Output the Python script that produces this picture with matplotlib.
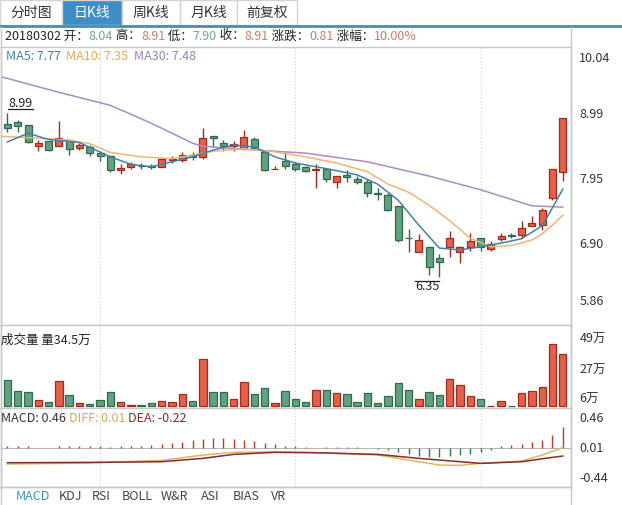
import matplotlib
matplotlib.use('Agg')
import matplotlib.pyplot as plt
from matplotlib.lines import Line2D
from matplotlib.patches import Rectangle
import matplotlib.transforms as mtransforms
import numpy as np

plt.rcParams['font.family'] = ['Noto Sans CJK SC', 'DejaVu Sans']

# data ===============================================================
opens = [8.82, 8.85, 8.80, 8.46, 8.54, 8.46, 8.56, 8.44, 8.45, 8.35, 8.30, 8.07, 8.12, 8.15, 8.14,
         8.12, 8.24, 8.24, 8.32, 8.28, 8.63, 8.51, 8.46, 8.44, 8.57, 8.37, 8.09, 8.22, 8.17, 8.13,
         8.08, 8.09, 7.89, 8.00, 7.93, 7.89, 7.70, 7.67, 7.50, 6.99, 6.75, 6.83, 6.66, 6.84, 6.76,
         6.83, 6.99, 6.80, 6.96, 7.03, 7.03, 7.18, 7.19, 7.63, 8.04]
closes = [8.75, 8.79, 8.53, 8.52, 8.40, 8.59, 8.42, 8.48, 8.35, 8.31, 8.07, 8.11, 8.17, 8.14, 8.13,
          8.25, 8.26, 8.32, 8.28, 8.59, 8.59, 8.46, 8.49, 8.61, 8.43, 8.08, 8.10, 8.15, 8.09, 8.06,
          8.09, 7.93, 7.98, 7.96, 7.89, 7.70, 7.69, 7.44, 6.95, 6.98, 6.95, 6.51, 6.59, 6.99, 6.83,
          6.94, 6.84, 6.89, 7.01, 7.02, 7.15, 7.23, 7.44, 8.10, 8.91]
highs = [8.99, 8.89, 8.80, 8.56, 8.55, 8.86, 8.56, 8.52, 8.48, 8.39, 8.32, 8.18, 8.21, 8.19, 8.18,
         8.27, 8.30, 8.36, 8.37, 8.75, 8.63, 8.56, 8.55, 8.72, 8.61, 8.40, 8.14, 8.37, 8.21, 8.14,
         8.17, 8.10, 7.98, 8.07, 7.98, 7.93, 7.78, 7.70, 7.50, 7.13, 7.05, 6.83, 6.72, 7.09, 6.86,
         7.06, 6.99, 6.93, 7.06, 7.06, 7.26, 7.33, 7.46, 8.10, 8.91]
lows = [8.69, 8.69, 8.51, 8.39, 8.39, 8.46, 8.32, 8.40, 8.31, 8.22, 8.04, 8.01, 8.10, 8.10, 8.10,
        8.12, 8.19, 8.20, 8.24, 8.25, 8.45, 8.38, 8.39, 8.40, 8.41, 8.06, 8.09, 8.10, 8.06, 8.04,
        7.79, 7.89, 7.79, 7.89, 7.85, 7.64, 7.60, 7.41, 6.92, 6.75, 6.75, 6.38, 6.35, 6.68, 6.58,
        6.78, 6.78, 6.77, 6.93, 6.98, 6.98, 7.17, 7.11, 7.60, 7.90]
volumes = [19, 11, 10.4, 4.4, 3, 18.3, 8.2, 2.5, 1.8, 4.4, 10.4, 3.2, 1.1, 1.1, 2.5, 3.7, 3.2, 9,
           3.7, 33.8, 10.4, 10.4, 5.2, 17.6, 9, 13.3, 2.5, 11.1, 5.4, 3.2, 11.8, 11.8, 9.7, 9, 3.2,
           9.7, 2.5, 7.5, 16.8, 11.8, 5.4, 10.4, 8.2, 19.7, 15.4, 7.5, 5.4, 0.4, 3.9, 0.6, 9.7,
           11.1, 14, 44.8, 37.6]

ma5_idx = [0, 2, 4, 7, 10, 12, 14, 16, 18, 20, 22, 24, 26, 28, 31, 34, 36, 38, 40, 42, 44, 46,
           48, 50, 52, 53, 54]
ma5 = [8.53, 8.67, 8.57, 8.52, 8.29, 8.17, 8.13, 8.21, 8.29, 8.40, 8.48, 8.45, 8.29, 8.19, 8.10,
       8.00, 7.85, 7.59, 7.19, 6.82, 6.79, 6.84, 6.90, 6.97, 7.18, 7.47, 7.77]
ma10_idx = [-0.6, 3, 6, 8, 10, 13, 16, 18, 20, 23, 26, 29, 32, 35, 37, 39, 41, 43, 45, 47, 49,
            51, 52, 53, 54]
ma10 = [8.62, 8.59, 8.56, 8.50, 8.36, 8.29, 8.26, 8.32, 8.38, 8.42, 8.37, 8.29, 8.19, 8.05, 7.85,
        7.72, 7.51, 7.26, 6.98, 6.84, 6.86, 6.95, 7.05, 7.19, 7.35]
ma30_idx = [-0.6, 5, 10, 14, 18, 19, 24, 29, 35, 41, 46, 51, 54]
ma30 = [9.58, 9.33, 9.12, 8.83, 8.51, 8.46, 8.40, 8.35, 8.21, 7.98, 7.76, 7.50, 7.48]

macd_hist = [0.02, 0.02, 0.02, 0, 0, 0.02, 0.02, 0.02, 0.02, 0.02, 0.01, 0.02, 0.03, 0.03, 0.04,
             0.05, 0.07, 0.09, 0.11, 0.13, 0.14, 0.14, 0.13, 0.12, 0.10, 0.07, 0.05, 0.03, 0.02,
             0.01, 0, 0.01, 0.01, 0.01, 0.01, -0.01, -0.02, -0.04, -0.07, -0.10, -0.12, -0.14,
             -0.14, -0.13, -0.11, -0.09, -0.06, -0.03, 0.02, 0.04, 0.06, 0.09, 0.12, 0.19, 0.31]
dea_idx = [0, 8, 15, 19, 22, 26, 30, 36, 40, 44, 46, 50, 53, 54]
dea = [-0.225, -0.22, -0.21, -0.16, -0.10, -0.07, -0.075, -0.10, -0.16, -0.21, -0.235, -0.21,
       -0.145, -0.125]
diff_idx = [0, 8, 15, 19, 22, 26, 30, 36, 38, 42, 44, 46, 50, 52, 54]
diff = [-0.245, -0.23, -0.19, -0.11, -0.07, -0.06, -0.075, -0.11, -0.16, -0.26, -0.265, -0.235,
        -0.2, -0.11, 0.0]

grid_idx = [9, 28, 46]
price_ticks = [10.04, 8.99, 7.95, 6.90, 5.86]
vol_ticks = [49, 27, 6]
vol_labels = ['49万', '27万', '6万']
macd_ticks = [0.46, 0.01, -0.44]

tabs = ['分时图', '日K线', '周K线', '月K线', '前复权']
bottom_tabs = ['MACD', 'KDJ', 'RSI', 'BOLL', 'W&R', 'ASI', 'BIAS', 'VR']

# colours
UP, UP_EDGE = '#e5604a', '#a02a1c'
DN, DN_EDGE = '#62a07f', '#2f6a4c'
C_MA5, C_MA10, C_MA30 = '#3f82aa', '#f0b478', '#a98cc6'
C_DIFF, C_DEA = '#d8b86a', '#8b2a2a'
FRAME = '#c8c8c8'

W, H = 622, 505
fig = plt.figure(figsize=(W / 100, H / 100), dpi=100)
fig.patch.set_facecolor('white')


def box(x0, y0, x1, y1):
    return [x0 / W, 1 - y1 / H, (x1 - x0) / W, (y1 - y0) / H]


def fig_line(x0, y0, x1, y1, color=FRAME, lw=1):
    fig.add_artist(Line2D([x0 / W, x1 / W], [1 - y0 / H, 1 - y1 / H], color=color, lw=lw,
                          transform=fig.transFigure))


renderer = fig.canvas.get_renderer()


def seq_text(x, y, parts, size=9):
    for s, c in parts:
        t = fig.text(x / W, 1 - y / H, s, color=c, fontsize=size, va='center', ha='left')
        x += t.get_window_extent(renderer=renderer).width


n = len(opens)
idx = np.arange(n)
up = np.array(closes) >= np.array(opens)
fill = np.where(up, UP, DN)
edge = np.where(up, UP_EDGE, DN_EDGE)
xlim = (-0.63, 54.8)


def style(ax):
    ax.set_xlim(*xlim)
    ax.set_xticks([])
    ax.yaxis.tick_right()
    ax.tick_params(axis='y', length=0, pad=6, labelsize=9, labelcolor='#333333')
    for s in ax.spines.values():
        s.set_color(FRAME)
        s.set_linewidth(1)
    for g in grid_idx:
        ax.axvline(g, color='#cfcfcf', lw=0.8, ls=(0, (1, 2)), zorder=0)


# price panel ==========================================
ax = fig.add_axes(box(1, 47, 571, 325))
style(ax)
ax.set_ylim(5.58, 10.06)
ax.vlines(idx, lows, highs, colors=edge, lw=1, zorder=2)
bottoms = np.minimum(opens, closes)
heights = np.maximum(np.abs(np.array(closes) - np.array(opens)), 0.008)
ax.bar(idx, heights, bottom=bottoms, width=0.68, color=fill, edgecolor=edge, lw=0.9, zorder=3)
ax.plot(ma30_idx, ma30, color=C_MA30, lw=1.1, zorder=4)
ax.plot(ma10_idx, ma10, color=C_MA10, lw=1.1, zorder=4)
ax.plot(ma5_idx, ma5, color=C_MA5, lw=1.1, zorder=4)
ax.set_yticks(price_ticks)
ax.set_yticklabels([f'{v:.2f}' for v in price_ticks])
tl = ax.get_yticklabels()
tl[0].set_va('top')
tl[0].set_transform(tl[0].get_transform() + mtransforms.ScaledTranslation(0, -4 / 100, fig.dpi_scale_trans))
tl[-1].set_va('bottom')

# max / min markers
hi_i = int(np.argmax(highs))
lo_i = int(np.argmin(lows))
t_hi = ax.annotate(f'{highs[hi_i]:.2f}', (hi_i, highs[hi_i]), xytext=(1, 3),
                   textcoords='offset pixels', ha='left', va='bottom', fontsize=9, color='#222222')
t_lo = ax.annotate(f'{lows[lo_i]:.2f}', (lo_i, lows[lo_i]), xytext=(0, -3),
                   textcoords='offset pixels', ha='right', va='top', fontsize=9, color='#222222')
bb = t_hi.get_window_extent(renderer=renderer)
fig.add_artist(Line2D([bb.x0 / W, bb.x1 / W], [(bb.y0 + 1) / H] * 2, color='#222222', lw=0.9))
bb = t_lo.get_window_extent(renderer=renderer)
fig.add_artist(Line2D([bb.x0 / W, bb.x1 / W], [(bb.y1 - 1) / H] * 2, color='#222222', lw=0.9))

# volume panel =========================================
axv = fig.add_axes(box(1, 325, 571, 408))
style(axv)
axv.set_ylim(-1.1, 58.4)
axv.bar(idx, volumes, width=0.72, color=fill, edgecolor=edge, lw=0.9, zorder=3)
axv.set_yticks(vol_ticks)
axv.set_yticklabels(vol_labels)

# macd panel ===========================================
axm = fig.add_axes(box(1, 408, 571, 487))
style(axm)
axm.set_ylim(-0.589, 0.595)
axm.axhline(0, color='#b8b8b8', lw=0.8, zorder=1)
hist = np.array(macd_hist)
axm.vlines(idx, 0, hist, colors=np.where(hist >= 0, '#c0392b', '#2e7a55'), lw=1, zorder=2)
axm.plot(diff_idx, diff, color=C_DIFF, lw=1.1, zorder=3)
axm.plot(dea_idx, dea, color=C_DEA, lw=1.1, zorder=3)
axm.set_yticks(macd_ticks)
axm.set_yticklabels([f'{v:.2f}' for v in macd_ticks])

# frame, tabs and text rows ============================
tab_edges = [0, 62, 122, 180, 237, 297]
for k, name in enumerate(tabs):
    x0, x1 = tab_edges[k], tab_edges[k + 1]
    sel = k == 1
    fig.add_artist(Rectangle((x0 / W, 1 - 25 / H), (x1 - x0) / W, 25 / H,
                             transform=fig.transFigure, facecolor='#3d8ec6' if sel else 'white',
                             edgecolor='#d4d4d4', lw=1))
    fig.text((x0 + x1) / 2 / W, 1 - 12.5 / H, name, ha='center', va='center', fontsize=10,
             color='white' if sel else '#333333')
fig_line(0, 26, W, 26, color='#4f8ca6', lw=2)
fig_line(571, 27, 571, 505)
fig_line(1, 27, 1, 505)
fig_line(0, 487, 571, 487)

seq_text(5, 36, [('20180302 开：', '#222222'), ('8.04', '#7fa08e'), (' 高：', '#222222'),
                 ('8.91', '#c0806a'), (' 低：', '#222222'), ('7.90', '#7fa08e'),
                 (' 收：', '#222222'), ('8.91', '#c0806a'), (' 涨跌：', '#222222'),
                 ('0.81', '#c0806a'), (' 涨幅：', '#222222'), ('10.00%', '#c0806a')])
seq_text(6, 57, [('MA5: 7.77  ', C_MA5), ('MA10: 7.35  ', '#e8a55a'), ('MA30: 7.48', '#9a80bd')])
seq_text(1, 340, [('成交量 量34.5万', '#222222')])
seq_text(1, 418, [('MACD: 0.46 ', '#333333'), ('DIFF: 0.01 ', '#c8b060'), ('DEA: -0.22', C_DEA)])

bx = [16, 59, 92, 122, 161, 201, 233, 271]
for x, name in zip(bx, bottom_tabs):
    fig.text(x / W, 1 - 496 / H, name, ha='left', va='center', fontsize=9,
             color='#3a93bd' if name == 'MACD' else '#444444')

fig.savefig('out.png', dpi=100, facecolor='white')
